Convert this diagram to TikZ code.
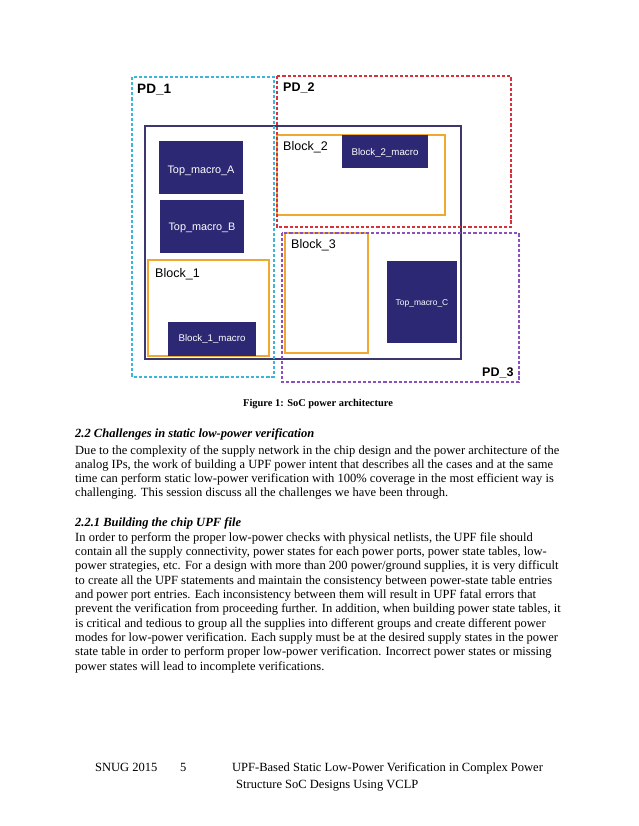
\documentclass[tikz,border=0pt]{standalone}
\usepackage{fontspec}
\setmainfont{Liberation Serif}
\setsansfont{Liberation Sans}
\definecolor{navy}{RGB}{44,40,116}
\definecolor{frame}{RGB}{60,56,110}
\definecolor{blockor}{RGB}{240,168,48}
\definecolor{pdcyan}{RGB}{60,180,220}
\definecolor{pdred}{RGB}{215,50,60}
\definecolor{pdpurple}{RGB}{140,80,190}
\tikzset{
  pdbox/.style={line width=1.3pt, dash pattern=on 3pt off 1.9pt},
  blockbox/.style={draw=blockor, line width=1.3pt},
  macrobox/.style={fill=navy},
  mlabel/.style={anchor=base, inner sep=0, text=white, font=\sffamily\fontsize{#1}{#1}\selectfont},
  pdlabel/.style={anchor=base west, inner sep=0, font=\sffamily\bfseries\fontsize{#1}{#1}\selectfont},
  blabel/.style={anchor=base west, inner sep=0, font=\sffamily\fontsize{12}{12}\selectfont},
  body/.style={anchor=base west, inner sep=0, font=\fontsize{12}{13.8}\selectfont},
  head/.style={anchor=base west, inner sep=0, font=\bfseries\itshape\fontsize{12}{13.8}\selectfont},
}
\begin{document}
\begin{tikzpicture}[x=0.95884pt, y=-0.95884pt]
\fill[white] (0,0) rectangle (638,826);
\useasboundingbox (0,0) rectangle (638,826);
% outer chip frame
\draw[frame, line width=1.3pt] (145,126) rectangle (461,359);
% blocks
\draw[blockbox] (148,260) rectangle (269,356);
\draw[blockbox] (277,135) rectangle (445,215);
\draw[blockbox] (285,233) rectangle (368,353);
% macros
\fill[macrobox] (159,141) rectangle (243,194);
\node[mlabel=10.4] (tma) at (201,173) {Top\_macro\_A};
\fill[macrobox] (160,200) rectangle (244,253);
\node[mlabel=10.4] (tmb) at (202,230.7) {Top\_macro\_B};
\fill[macrobox] (168,322) rectangle (256,356);
\node[mlabel=9.3] (b1m) at (212,341.5) {Block\_1\_macro};
\fill[macrobox] (342,135) rectangle (428,168);
\node[mlabel=9.3] (b2m) at (385,155.5) {Block\_2\_macro};
\fill[macrobox] (387,261) rectangle (457,343);
\node[mlabel=8.1] (tmc) at (422,305) {Top\_macro\_C};
% block labels
\node[blabel] (b1) at (155,277) {Block\_1};
\node[blabel] (b2) at (283,150.5) {Block\_2};
\node[blabel] (b3) at (291,248.5) {Block\_3};
% power domains
\draw[pdbox, draw=pdcyan] (132,77) rectangle (274,377);
\draw[pdbox, draw=pdred] (277,76) rectangle (511,227);
\draw[pdbox, draw=pdpurple] (282,233) rectangle (519,382);
\node[pdlabel=13] (pd1) at (137,93) {PD\_1};
\node[pdlabel=12] (pd2) at (283,91.5) {PD\_2};
\node[pdlabel=12] (pd3) at (482,376.5) {PD\_3};
% caption
\node[anchor=base, inner sep=0, font=\bfseries\fontsize{10}{12}\selectfont] (cap) at (318,406) {Figure 1: SoC power architecture};
% section 2.2
\node[head] (h1) at (75,437) {2.2 Challenges in static low-power verification};
\node[body] (l1) at (75,454) {Due to the complexity of the supply network in the chip design and the power architecture of the};
\node[body] (l2) at (75,468.3) {analog IPs, the work of building a UPF power intent that describes all the cases and at the same};
\node[body] (l3) at (75,482.6) {time can perform static low-power verification with 100\% coverage in the most efficient way is};
\node[body] (l4) at (75,496.9) {challenging. This session discuss all the challenges we have been through.};
% section 2.2.1
\node[head] (h2) at (75,526) {2.2.1 Building the chip UPF file};
\node[body] (m1) at (75,541) {In order to perform the proper low-power checks with physical netlists, the UPF file should};
\node[body] (m2) at (75,555.35) {contain all the supply connectivity, power states for each power ports, power state tables, low-};
\node[body] (m3) at (75,569.7) {power strategies, etc. For a design with more than 200 power/ground supplies, it is very difficult};
\node[body] (m4) at (75,584.05) {to create all the UPF statements and maintain the consistency between power-state table entries};
\node[body] (m5) at (75,598.4) {and power port entries. Each inconsistency between them will result in UPF fatal errors that};
\node[body] (m6) at (75,612.75) {prevent the verification from proceeding further. In addition, when building power state tables, it};
\node[body] (m7) at (75,627.1) {is critical and tedious to group all the supplies into different groups and create different power};
\node[body] (m8) at (75,641.45) {modes for low-power verification. Each supply must be at the desired supply states in the power};
\node[body] (m9) at (75,655.8) {state table in order to perform proper low-power verification. Incorrect power states or missing};
\node[body] (m10) at (75,670.15) {power states will lead to incomplete verifications.};
% footer
\node[body] (f1) at (95,771) {SNUG 2015};
\node[body] (f2) at (180,771) {5};
\node[body] (f3) at (232,771) {UPF-Based Static Low-Power Verification in Complex Power};
\node[body] (f4) at (236,788) {Structure SoC Designs Using VCLP};
\end{tikzpicture}
\end{document}
